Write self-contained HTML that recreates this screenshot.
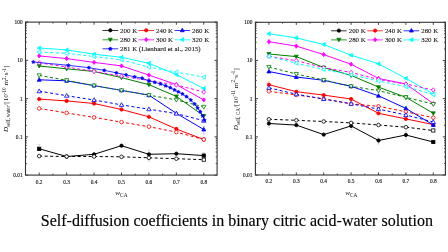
<!DOCTYPE html>
<html><head><meta charset="utf-8"><title>Self-diffusion coefficients</title>
<style>
html,body{margin:0;padding:0;background:#fff;width:448px;height:252px;overflow:hidden}
svg{display:block}
text{font-family:"Liberation Serif","DejaVu Serif",serif;fill:#1a1a1a}
.tk{font-size:5.4px;fill:#111;stroke:#111;stroke-width:0.12px}
.lg{font-size:6.9px;fill:#111;stroke:#111;stroke-width:0.1px}
.ax{font-size:7.15px;fill:#111}
.cap{font-size:16px;fill:#000;stroke:#000;stroke-width:0.15px}
</style></head><body>
<svg width="448" height="252" viewBox="0 0 448 252">
<rect width="448" height="252" fill="#fff"/>
<rect x="25.5" y="22.1" width="191.6" height="153" fill="none" stroke="#333333" stroke-width="1.1"/>
<line x1="39.2" y1="175.1" x2="39.2" y2="172.5" stroke="#333333" stroke-width="0.9"/>
<line x1="39.2" y1="22.1" x2="39.2" y2="24.7" stroke="#333333" stroke-width="0.9"/>
<line x1="66.63" y1="175.1" x2="66.63" y2="172.5" stroke="#333333" stroke-width="0.9"/>
<line x1="66.63" y1="22.1" x2="66.63" y2="24.7" stroke="#333333" stroke-width="0.9"/>
<line x1="94.06" y1="175.1" x2="94.06" y2="172.5" stroke="#333333" stroke-width="0.9"/>
<line x1="94.06" y1="22.1" x2="94.06" y2="24.7" stroke="#333333" stroke-width="0.9"/>
<line x1="121.49" y1="175.1" x2="121.49" y2="172.5" stroke="#333333" stroke-width="0.9"/>
<line x1="121.49" y1="22.1" x2="121.49" y2="24.7" stroke="#333333" stroke-width="0.9"/>
<line x1="148.92" y1="175.1" x2="148.92" y2="172.5" stroke="#333333" stroke-width="0.9"/>
<line x1="148.92" y1="22.1" x2="148.92" y2="24.7" stroke="#333333" stroke-width="0.9"/>
<line x1="176.35" y1="175.1" x2="176.35" y2="172.5" stroke="#333333" stroke-width="0.9"/>
<line x1="176.35" y1="22.1" x2="176.35" y2="24.7" stroke="#333333" stroke-width="0.9"/>
<line x1="203.78" y1="175.1" x2="203.78" y2="172.5" stroke="#333333" stroke-width="0.9"/>
<line x1="203.78" y1="22.1" x2="203.78" y2="24.7" stroke="#333333" stroke-width="0.9"/>
<line x1="52.92" y1="175.1" x2="52.92" y2="173.7" stroke="#333333" stroke-width="0.9"/>
<line x1="52.92" y1="22.1" x2="52.92" y2="23.5" stroke="#333333" stroke-width="0.9"/>
<line x1="80.34" y1="175.1" x2="80.34" y2="173.7" stroke="#333333" stroke-width="0.9"/>
<line x1="80.34" y1="22.1" x2="80.34" y2="23.5" stroke="#333333" stroke-width="0.9"/>
<line x1="107.78" y1="175.1" x2="107.78" y2="173.7" stroke="#333333" stroke-width="0.9"/>
<line x1="107.78" y1="22.1" x2="107.78" y2="23.5" stroke="#333333" stroke-width="0.9"/>
<line x1="135.2" y1="175.1" x2="135.2" y2="173.7" stroke="#333333" stroke-width="0.9"/>
<line x1="135.2" y1="22.1" x2="135.2" y2="23.5" stroke="#333333" stroke-width="0.9"/>
<line x1="162.63" y1="175.1" x2="162.63" y2="173.7" stroke="#333333" stroke-width="0.9"/>
<line x1="162.63" y1="22.1" x2="162.63" y2="23.5" stroke="#333333" stroke-width="0.9"/>
<line x1="190.06" y1="175.1" x2="190.06" y2="173.7" stroke="#333333" stroke-width="0.9"/>
<line x1="190.06" y1="22.1" x2="190.06" y2="23.5" stroke="#333333" stroke-width="0.9"/>
<line x1="25.5" y1="22.1" x2="28.1" y2="22.1" stroke="#333333" stroke-width="0.9"/>
<line x1="217.1" y1="22.1" x2="214.5" y2="22.1" stroke="#333333" stroke-width="0.9"/>
<line x1="25.5" y1="48.84" x2="26.9" y2="48.84" stroke="#333333" stroke-width="0.8"/>
<line x1="217.1" y1="48.84" x2="215.7" y2="48.84" stroke="#333333" stroke-width="0.8"/>
<line x1="25.5" y1="42.1" x2="26.9" y2="42.1" stroke="#333333" stroke-width="0.8"/>
<line x1="217.1" y1="42.1" x2="215.7" y2="42.1" stroke="#333333" stroke-width="0.8"/>
<line x1="25.5" y1="37.32" x2="26.9" y2="37.32" stroke="#333333" stroke-width="0.8"/>
<line x1="217.1" y1="37.32" x2="215.7" y2="37.32" stroke="#333333" stroke-width="0.8"/>
<line x1="25.5" y1="33.61" x2="26.9" y2="33.61" stroke="#333333" stroke-width="0.8"/>
<line x1="217.1" y1="33.61" x2="215.7" y2="33.61" stroke="#333333" stroke-width="0.8"/>
<line x1="25.5" y1="30.59" x2="26.9" y2="30.59" stroke="#333333" stroke-width="0.8"/>
<line x1="217.1" y1="30.59" x2="215.7" y2="30.59" stroke="#333333" stroke-width="0.8"/>
<line x1="25.5" y1="28.02" x2="26.9" y2="28.02" stroke="#333333" stroke-width="0.8"/>
<line x1="217.1" y1="28.02" x2="215.7" y2="28.02" stroke="#333333" stroke-width="0.8"/>
<line x1="25.5" y1="25.81" x2="26.9" y2="25.81" stroke="#333333" stroke-width="0.8"/>
<line x1="217.1" y1="25.81" x2="215.7" y2="25.81" stroke="#333333" stroke-width="0.8"/>
<line x1="25.5" y1="23.85" x2="26.9" y2="23.85" stroke="#333333" stroke-width="0.8"/>
<line x1="217.1" y1="23.85" x2="215.7" y2="23.85" stroke="#333333" stroke-width="0.8"/>
<line x1="25.5" y1="60.35" x2="28.1" y2="60.35" stroke="#333333" stroke-width="0.9"/>
<line x1="217.1" y1="60.35" x2="214.5" y2="60.35" stroke="#333333" stroke-width="0.9"/>
<line x1="25.5" y1="87.09" x2="26.9" y2="87.09" stroke="#333333" stroke-width="0.8"/>
<line x1="217.1" y1="87.09" x2="215.7" y2="87.09" stroke="#333333" stroke-width="0.8"/>
<line x1="25.5" y1="80.35" x2="26.9" y2="80.35" stroke="#333333" stroke-width="0.8"/>
<line x1="217.1" y1="80.35" x2="215.7" y2="80.35" stroke="#333333" stroke-width="0.8"/>
<line x1="25.5" y1="75.57" x2="26.9" y2="75.57" stroke="#333333" stroke-width="0.8"/>
<line x1="217.1" y1="75.57" x2="215.7" y2="75.57" stroke="#333333" stroke-width="0.8"/>
<line x1="25.5" y1="71.86" x2="26.9" y2="71.86" stroke="#333333" stroke-width="0.8"/>
<line x1="217.1" y1="71.86" x2="215.7" y2="71.86" stroke="#333333" stroke-width="0.8"/>
<line x1="25.5" y1="68.84" x2="26.9" y2="68.84" stroke="#333333" stroke-width="0.8"/>
<line x1="217.1" y1="68.84" x2="215.7" y2="68.84" stroke="#333333" stroke-width="0.8"/>
<line x1="25.5" y1="66.27" x2="26.9" y2="66.27" stroke="#333333" stroke-width="0.8"/>
<line x1="217.1" y1="66.27" x2="215.7" y2="66.27" stroke="#333333" stroke-width="0.8"/>
<line x1="25.5" y1="64.06" x2="26.9" y2="64.06" stroke="#333333" stroke-width="0.8"/>
<line x1="217.1" y1="64.06" x2="215.7" y2="64.06" stroke="#333333" stroke-width="0.8"/>
<line x1="25.5" y1="62.1" x2="26.9" y2="62.1" stroke="#333333" stroke-width="0.8"/>
<line x1="217.1" y1="62.1" x2="215.7" y2="62.1" stroke="#333333" stroke-width="0.8"/>
<line x1="25.5" y1="98.6" x2="28.1" y2="98.6" stroke="#333333" stroke-width="0.9"/>
<line x1="217.1" y1="98.6" x2="214.5" y2="98.6" stroke="#333333" stroke-width="0.9"/>
<line x1="25.5" y1="125.34" x2="26.9" y2="125.34" stroke="#333333" stroke-width="0.8"/>
<line x1="217.1" y1="125.34" x2="215.7" y2="125.34" stroke="#333333" stroke-width="0.8"/>
<line x1="25.5" y1="118.6" x2="26.9" y2="118.6" stroke="#333333" stroke-width="0.8"/>
<line x1="217.1" y1="118.6" x2="215.7" y2="118.6" stroke="#333333" stroke-width="0.8"/>
<line x1="25.5" y1="113.82" x2="26.9" y2="113.82" stroke="#333333" stroke-width="0.8"/>
<line x1="217.1" y1="113.82" x2="215.7" y2="113.82" stroke="#333333" stroke-width="0.8"/>
<line x1="25.5" y1="110.11" x2="26.9" y2="110.11" stroke="#333333" stroke-width="0.8"/>
<line x1="217.1" y1="110.11" x2="215.7" y2="110.11" stroke="#333333" stroke-width="0.8"/>
<line x1="25.5" y1="107.09" x2="26.9" y2="107.09" stroke="#333333" stroke-width="0.8"/>
<line x1="217.1" y1="107.09" x2="215.7" y2="107.09" stroke="#333333" stroke-width="0.8"/>
<line x1="25.5" y1="104.52" x2="26.9" y2="104.52" stroke="#333333" stroke-width="0.8"/>
<line x1="217.1" y1="104.52" x2="215.7" y2="104.52" stroke="#333333" stroke-width="0.8"/>
<line x1="25.5" y1="102.31" x2="26.9" y2="102.31" stroke="#333333" stroke-width="0.8"/>
<line x1="217.1" y1="102.31" x2="215.7" y2="102.31" stroke="#333333" stroke-width="0.8"/>
<line x1="25.5" y1="100.35" x2="26.9" y2="100.35" stroke="#333333" stroke-width="0.8"/>
<line x1="217.1" y1="100.35" x2="215.7" y2="100.35" stroke="#333333" stroke-width="0.8"/>
<line x1="25.5" y1="136.85" x2="28.1" y2="136.85" stroke="#333333" stroke-width="0.9"/>
<line x1="217.1" y1="136.85" x2="214.5" y2="136.85" stroke="#333333" stroke-width="0.9"/>
<line x1="25.5" y1="163.59" x2="26.9" y2="163.59" stroke="#333333" stroke-width="0.8"/>
<line x1="217.1" y1="163.59" x2="215.7" y2="163.59" stroke="#333333" stroke-width="0.8"/>
<line x1="25.5" y1="156.85" x2="26.9" y2="156.85" stroke="#333333" stroke-width="0.8"/>
<line x1="217.1" y1="156.85" x2="215.7" y2="156.85" stroke="#333333" stroke-width="0.8"/>
<line x1="25.5" y1="152.07" x2="26.9" y2="152.07" stroke="#333333" stroke-width="0.8"/>
<line x1="217.1" y1="152.07" x2="215.7" y2="152.07" stroke="#333333" stroke-width="0.8"/>
<line x1="25.5" y1="148.36" x2="26.9" y2="148.36" stroke="#333333" stroke-width="0.8"/>
<line x1="217.1" y1="148.36" x2="215.7" y2="148.36" stroke="#333333" stroke-width="0.8"/>
<line x1="25.5" y1="145.34" x2="26.9" y2="145.34" stroke="#333333" stroke-width="0.8"/>
<line x1="217.1" y1="145.34" x2="215.7" y2="145.34" stroke="#333333" stroke-width="0.8"/>
<line x1="25.5" y1="142.77" x2="26.9" y2="142.77" stroke="#333333" stroke-width="0.8"/>
<line x1="217.1" y1="142.77" x2="215.7" y2="142.77" stroke="#333333" stroke-width="0.8"/>
<line x1="25.5" y1="140.56" x2="26.9" y2="140.56" stroke="#333333" stroke-width="0.8"/>
<line x1="217.1" y1="140.56" x2="215.7" y2="140.56" stroke="#333333" stroke-width="0.8"/>
<line x1="25.5" y1="138.6" x2="26.9" y2="138.6" stroke="#333333" stroke-width="0.8"/>
<line x1="217.1" y1="138.6" x2="215.7" y2="138.6" stroke="#333333" stroke-width="0.8"/>
<line x1="25.5" y1="175.1" x2="28.1" y2="175.1" stroke="#333333" stroke-width="0.9"/>
<line x1="217.1" y1="175.1" x2="214.5" y2="175.1" stroke="#333333" stroke-width="0.9"/>
<g stroke="#888888" stroke-width="0.6" opacity="0.55"><line x1="39.2" y1="144.3" x2="39.2" y2="150.5"/><line x1="38.2" y1="144.3" x2="40.2" y2="144.3"/><line x1="38.2" y1="150.5" x2="40.2" y2="150.5"/></g>
<g stroke="#888888" stroke-width="0.6" opacity="0.55"><line x1="148.92" y1="150" x2="148.92" y2="161"/><line x1="147.92" y1="150" x2="149.92" y2="150"/><line x1="147.92" y1="161" x2="149.92" y2="161"/></g>
<g stroke="#888888" stroke-width="0.6" opacity="0.55"><line x1="203.78" y1="152.3" x2="203.78" y2="158.5"/><line x1="202.78" y1="152.3" x2="204.78" y2="152.3"/><line x1="202.78" y1="158.5" x2="204.78" y2="158.5"/></g>
<g stroke="#0000ff" stroke-width="0.6" opacity="0.35"><line x1="203.78" y1="126.4" x2="203.78" y2="134"/><line x1="202.78" y1="126.4" x2="204.78" y2="126.4"/><line x1="202.78" y1="134" x2="204.78" y2="134"/></g>
<g stroke="#ff0000" stroke-width="0.6" opacity="0.35"><line x1="176.35" y1="127.5" x2="176.35" y2="131"/><line x1="175.35" y1="127.5" x2="177.35" y2="127.5"/><line x1="175.35" y1="131" x2="177.35" y2="131"/></g>
<polyline points="39.2,148.8 66.63,156.5 94.06,154.3 121.49,145.7 148.92,154.3 176.35,153.7 203.78,155.6" fill="none" stroke="#000000" stroke-width="1"/>
<rect x="37.59" y="147.19" width="3.23" height="3.23" fill="#000000" stroke="#000000" stroke-width="0.8"/>
<circle cx="66.63" cy="156.5" r="1.66" fill="#000000" stroke="#000000" stroke-width="0.8"/>
<circle cx="94.06" cy="154.3" r="1.66" fill="#000000" stroke="#000000" stroke-width="0.8"/>
<circle cx="121.49" cy="145.7" r="1.66" fill="#000000" stroke="#000000" stroke-width="0.8"/>
<circle cx="148.92" cy="154.3" r="1.66" fill="#000000" stroke="#000000" stroke-width="0.8"/>
<circle cx="176.35" cy="153.7" r="1.66" fill="#000000" stroke="#000000" stroke-width="0.8"/>
<rect x="202.16" y="153.98" width="3.23" height="3.23" fill="#000000" stroke="#000000" stroke-width="0.8"/>
<polyline points="39.2,99.1 66.63,100.9 94.06,103.5 121.49,109.5 148.92,116.8 176.35,129 203.78,139.5" fill="none" stroke="#ff0000" stroke-width="1"/>
<circle cx="39.2" cy="99.1" r="1.66" fill="#ff0000" stroke="#ff0000" stroke-width="0.8"/>
<circle cx="66.63" cy="100.9" r="1.66" fill="#ff0000" stroke="#ff0000" stroke-width="0.8"/>
<circle cx="94.06" cy="103.5" r="1.66" fill="#ff0000" stroke="#ff0000" stroke-width="0.8"/>
<circle cx="121.49" cy="109.5" r="1.66" fill="#ff0000" stroke="#ff0000" stroke-width="0.8"/>
<circle cx="148.92" cy="116.8" r="1.66" fill="#ff0000" stroke="#ff0000" stroke-width="0.8"/>
<circle cx="176.35" cy="129" r="1.66" fill="#ff0000" stroke="#ff0000" stroke-width="0.8"/>
<circle cx="203.78" cy="139.5" r="1.66" fill="#ff0000" stroke="#ff0000" stroke-width="0.8"/>
<polyline points="39.2,79.8 66.63,80.8 94.06,85.6 121.49,90.4 148.92,95.2 176.35,113.3 203.78,129.5" fill="none" stroke="#0000ff" stroke-width="1"/>
<polygon points="39.2,77.73 41.18,81.24 37.22,81.24" fill="#0000ff" stroke="#0000ff" stroke-width="0.8"/>
<polygon points="66.63,78.73 68.61,82.24 64.65,82.24" fill="#0000ff" stroke="#0000ff" stroke-width="0.8"/>
<polygon points="94.06,83.53 96.04,87.04 92.08,87.04" fill="#0000ff" stroke="#0000ff" stroke-width="0.8"/>
<polygon points="121.49,88.33 123.47,91.84 119.51,91.84" fill="#0000ff" stroke="#0000ff" stroke-width="0.8"/>
<polygon points="148.92,93.13 150.9,96.64 146.94,96.64" fill="#0000ff" stroke="#0000ff" stroke-width="0.8"/>
<polygon points="176.35,111.23 178.33,114.74 174.37,114.74" fill="#0000ff" stroke="#0000ff" stroke-width="0.8"/>
<polygon points="203.78,127.43 205.76,130.94 201.8,130.94" fill="#0000ff" stroke="#0000ff" stroke-width="0.8"/>
<polyline points="39.2,66 66.63,68.8 94.06,71.5 121.49,77.6 148.92,84.7 176.35,96.4 203.78,115.9" fill="none" stroke="#008000" stroke-width="1"/>
<polygon points="39.2,68.07 41.18,64.56 37.22,64.56" fill="#008000" stroke="#008000" stroke-width="0.8"/>
<polygon points="66.63,70.87 68.61,67.36 64.65,67.36" fill="#008000" stroke="#008000" stroke-width="0.8"/>
<polygon points="94.06,73.57 96.04,70.06 92.08,70.06" fill="#008000" stroke="#008000" stroke-width="0.8"/>
<polygon points="121.49,79.67 123.47,76.16 119.51,76.16" fill="#008000" stroke="#008000" stroke-width="0.8"/>
<polygon points="148.92,86.77 150.9,83.26 146.94,83.26" fill="#008000" stroke="#008000" stroke-width="0.8"/>
<polygon points="176.35,98.47 178.33,94.96 174.37,94.96" fill="#008000" stroke="#008000" stroke-width="0.8"/>
<polygon points="203.78,117.97 205.76,114.46 201.8,114.46" fill="#008000" stroke="#008000" stroke-width="0.8"/>
<polyline points="39.2,55.9 66.63,58.6 94.06,62.4 121.49,65.9 148.92,75.1 176.35,84.6 203.78,99.9" fill="none" stroke="#ff00ff" stroke-width="1"/>
<polygon points="39.2,53.83 40.91,55.9 39.2,57.97 37.49,55.9" fill="#ff00ff" stroke="#ff00ff" stroke-width="0.8"/>
<polygon points="66.63,56.53 68.34,58.6 66.63,60.67 64.92,58.6" fill="#ff00ff" stroke="#ff00ff" stroke-width="0.8"/>
<polygon points="94.06,60.33 95.77,62.4 94.06,64.47 92.35,62.4" fill="#ff00ff" stroke="#ff00ff" stroke-width="0.8"/>
<polygon points="121.49,63.83 123.2,65.9 121.49,67.97 119.78,65.9" fill="#ff00ff" stroke="#ff00ff" stroke-width="0.8"/>
<polygon points="148.92,73.03 150.63,75.1 148.92,77.17 147.21,75.1" fill="#ff00ff" stroke="#ff00ff" stroke-width="0.8"/>
<polygon points="176.35,82.53 178.06,84.6 176.35,86.67 174.64,84.6" fill="#ff00ff" stroke="#ff00ff" stroke-width="0.8"/>
<polygon points="203.78,97.83 205.49,99.9 203.78,101.97 202.07,99.9" fill="#ff00ff" stroke="#ff00ff" stroke-width="0.8"/>
<polyline points="39.2,48 66.63,49.9 94.06,54.2 121.49,57.3 148.92,63.3 176.35,74.6 203.78,88.5" fill="none" stroke="#00ffff" stroke-width="1"/>
<polygon points="37.13,48 40.64,46.02 40.64,49.98" fill="#00ffff" stroke="#00ffff" stroke-width="0.8"/>
<polygon points="64.56,49.9 68.07,47.92 68.07,51.88" fill="#00ffff" stroke="#00ffff" stroke-width="0.8"/>
<polygon points="91.99,54.2 95.5,52.22 95.5,56.18" fill="#00ffff" stroke="#00ffff" stroke-width="0.8"/>
<polygon points="119.42,57.3 122.93,55.32 122.93,59.28" fill="#00ffff" stroke="#00ffff" stroke-width="0.8"/>
<polygon points="146.85,63.3 150.36,61.32 150.36,65.28" fill="#00ffff" stroke="#00ffff" stroke-width="0.8"/>
<polygon points="174.28,74.6 177.79,72.62 177.79,76.58" fill="#00ffff" stroke="#00ffff" stroke-width="0.8"/>
<polygon points="201.71,88.5 205.22,86.52 205.22,90.48" fill="#00ffff" stroke="#00ffff" stroke-width="0.8"/>
<polyline points="39.2,156.1 66.63,156.5 94.06,156.5 121.49,156.8 148.92,157.8 176.35,158.7 203.78,159.7" fill="none" stroke="#000000" stroke-width="1" stroke-dasharray="3 2.5"/>
<circle cx="39.2" cy="156.1" r="1.79" fill="#ffffff" stroke="#000000" stroke-width="0.8"/>
<circle cx="66.63" cy="156.5" r="1.79" fill="#ffffff" stroke="#000000" stroke-width="0.8"/>
<circle cx="94.06" cy="156.5" r="1.79" fill="#ffffff" stroke="#000000" stroke-width="0.8"/>
<circle cx="121.49" cy="156.8" r="1.79" fill="#ffffff" stroke="#000000" stroke-width="0.8"/>
<circle cx="148.92" cy="157.8" r="1.79" fill="#ffffff" stroke="#000000" stroke-width="0.8"/>
<circle cx="176.35" cy="158.7" r="1.79" fill="#ffffff" stroke="#000000" stroke-width="0.8"/>
<rect x="202.16" y="158.08" width="3.23" height="3.23" fill="#ffffff" stroke="#000000" stroke-width="0.8"/>
<polyline points="39.2,108.5 66.63,112.9 94.06,117.4 121.49,122.1 148.92,126.7 176.35,132.1 203.78,139.5" fill="none" stroke="#ff0000" stroke-width="1" stroke-dasharray="3 2.5"/>
<circle cx="39.2" cy="108.5" r="1.79" fill="#ffffff" stroke="#ff0000" stroke-width="0.8"/>
<circle cx="66.63" cy="112.9" r="1.79" fill="#ffffff" stroke="#ff0000" stroke-width="0.8"/>
<circle cx="94.06" cy="117.4" r="1.79" fill="#ffffff" stroke="#ff0000" stroke-width="0.8"/>
<circle cx="121.49" cy="122.1" r="1.79" fill="#ffffff" stroke="#ff0000" stroke-width="0.8"/>
<circle cx="148.92" cy="126.7" r="1.79" fill="#ffffff" stroke="#ff0000" stroke-width="0.8"/>
<circle cx="176.35" cy="132.1" r="1.79" fill="#ffffff" stroke="#ff0000" stroke-width="0.8"/>
<circle cx="203.78" cy="139.5" r="1.79" fill="#ffffff" stroke="#ff0000" stroke-width="0.8"/>
<polyline points="39.2,91.2 66.63,95.7 94.06,100 121.49,104.9 148.92,109.2 176.35,113.6 203.78,120.7" fill="none" stroke="#0000ff" stroke-width="1" stroke-dasharray="3 2.5"/>
<polygon points="39.2,88.96 41.35,92.76 37.05,92.76" fill="#ffffff" stroke="#0000ff" stroke-width="0.8"/>
<polygon points="66.63,93.46 68.77,97.26 64.48,97.26" fill="#ffffff" stroke="#0000ff" stroke-width="0.8"/>
<polygon points="94.06,97.76 96.2,101.56 91.92,101.56" fill="#ffffff" stroke="#0000ff" stroke-width="0.8"/>
<polygon points="121.49,102.66 123.63,106.46 119.34,106.46" fill="#ffffff" stroke="#0000ff" stroke-width="0.8"/>
<polygon points="148.92,106.96 151.07,110.76 146.78,110.76" fill="#ffffff" stroke="#0000ff" stroke-width="0.8"/>
<polygon points="176.35,111.36 178.5,115.16 174.21,115.16" fill="#ffffff" stroke="#0000ff" stroke-width="0.8"/>
<polygon points="203.78,118.46 205.92,122.26 201.63,122.26" fill="#ffffff" stroke="#0000ff" stroke-width="0.8"/>
<polyline points="39.2,75.4 66.63,80.3 94.06,85.6 121.49,90.4 148.92,95.2 176.35,99.9 203.78,106.9" fill="none" stroke="#008000" stroke-width="1" stroke-dasharray="3 2.5"/>
<polygon points="39.2,77.64 41.35,73.84 37.05,73.84" fill="#ffffff" stroke="#008000" stroke-width="0.8"/>
<polygon points="66.63,82.54 68.77,78.74 64.48,78.74" fill="#ffffff" stroke="#008000" stroke-width="0.8"/>
<polygon points="94.06,87.84 96.2,84.04 91.92,84.04" fill="#ffffff" stroke="#008000" stroke-width="0.8"/>
<polygon points="121.49,92.64 123.63,88.84 119.34,88.84" fill="#ffffff" stroke="#008000" stroke-width="0.8"/>
<polygon points="148.92,97.44 151.07,93.64 146.78,93.64" fill="#ffffff" stroke="#008000" stroke-width="0.8"/>
<polygon points="176.35,102.14 178.5,98.34 174.21,98.34" fill="#ffffff" stroke="#008000" stroke-width="0.8"/>
<polygon points="203.78,109.14 205.92,105.34 201.63,105.34" fill="#ffffff" stroke="#008000" stroke-width="0.8"/>
<polyline points="39.2,62.8 66.63,67 94.06,71.4 121.49,76.1 148.92,80.5 176.35,85 203.78,92" fill="none" stroke="#ff00ff" stroke-width="1" stroke-dasharray="3 2.5"/>
<polygon points="39.2,60.56 41.05,62.8 39.2,65.04 37.35,62.8" fill="#ffffff" stroke="#ff00ff" stroke-width="0.8"/>
<polygon points="66.63,64.76 68.48,67 66.63,69.24 64.78,67" fill="#ffffff" stroke="#ff00ff" stroke-width="0.8"/>
<polygon points="94.06,69.16 95.91,71.4 94.06,73.64 92.21,71.4" fill="#ffffff" stroke="#ff00ff" stroke-width="0.8"/>
<polygon points="121.49,73.86 123.34,76.1 121.49,78.34 119.64,76.1" fill="#ffffff" stroke="#ff00ff" stroke-width="0.8"/>
<polygon points="148.92,78.26 150.77,80.5 148.92,82.74 147.07,80.5" fill="#ffffff" stroke="#ff00ff" stroke-width="0.8"/>
<polygon points="176.35,82.76 178.2,85 176.35,87.24 174.5,85" fill="#ffffff" stroke="#ff00ff" stroke-width="0.8"/>
<polygon points="203.78,89.76 205.63,92 203.78,94.24 201.93,92" fill="#ffffff" stroke="#ff00ff" stroke-width="0.8"/>
<polyline points="39.2,52.1 66.63,53.3 94.06,56.5 121.49,59.9 148.92,67.1 176.35,72.1 203.78,77.1" fill="none" stroke="#00ffff" stroke-width="1" stroke-dasharray="3 2.5"/>
<polygon points="36.96,52.1 40.76,49.95 40.76,54.25" fill="#ffffff" stroke="#00ffff" stroke-width="0.8"/>
<polygon points="64.39,53.3 68.19,51.15 68.19,55.45" fill="#ffffff" stroke="#00ffff" stroke-width="0.8"/>
<polygon points="91.82,56.5 95.62,54.35 95.62,58.65" fill="#ffffff" stroke="#00ffff" stroke-width="0.8"/>
<polygon points="119.25,59.9 123.05,57.75 123.05,62.05" fill="#ffffff" stroke="#00ffff" stroke-width="0.8"/>
<polygon points="146.68,67.1 150.48,64.95 150.48,69.24" fill="#ffffff" stroke="#00ffff" stroke-width="0.8"/>
<polygon points="174.11,72.1 177.91,69.95 177.91,74.24" fill="#ffffff" stroke="#00ffff" stroke-width="0.8"/>
<polygon points="201.54,77.1 205.34,74.95 205.34,79.24" fill="#ffffff" stroke="#00ffff" stroke-width="0.8"/>
<polyline points="33.3,62 68.4,65.3 88.9,67.7 104.2,70.3 116.3,72.8 126,74.8 134.6,76.8 142.1,78.2 148.9,80.8 154.8,82.3 160.5,83.9 165.6,85.8 170.3,87.7 174.5,89.9 178.3,91.8 182.4,93.9 186.5,96.6 190.8,100 194.6,104 197.6,108 200.3,111.7 202.6,115.9 204.5,120.2" fill="none" stroke="#0000ff" stroke-width="0.8"/>
<polygon points="33.3,60.16 33.94,61.12 35.05,61.43 34.33,62.34 34.38,63.49 33.3,63.09 32.22,63.49 32.27,62.34 31.55,61.43 32.66,61.12" fill="#0000ff" stroke="#0000ff" stroke-width="0.5"/>
<polygon points="68.4,63.46 69.04,64.42 70.15,64.73 69.43,65.64 69.48,66.79 68.4,66.38 67.32,66.79 67.37,65.64 66.65,64.73 67.76,64.42" fill="#0000ff" stroke="#0000ff" stroke-width="0.5"/>
<polygon points="88.9,65.86 89.54,66.82 90.65,67.13 89.93,68.04 89.98,69.19 88.9,68.78 87.82,69.19 87.87,68.04 87.15,67.13 88.26,66.82" fill="#0000ff" stroke="#0000ff" stroke-width="0.5"/>
<polygon points="104.2,68.46 104.84,69.42 105.95,69.73 105.23,70.64 105.28,71.79 104.2,71.38 103.12,71.79 103.17,70.64 102.45,69.73 103.56,69.42" fill="#0000ff" stroke="#0000ff" stroke-width="0.5"/>
<polygon points="116.3,70.96 116.94,71.92 118.05,72.23 117.33,73.14 117.38,74.29 116.3,73.88 115.22,74.29 115.27,73.14 114.55,72.23 115.66,71.92" fill="#0000ff" stroke="#0000ff" stroke-width="0.5"/>
<polygon points="126,72.96 126.64,73.92 127.75,74.23 127.03,75.14 127.08,76.29 126,75.88 124.92,76.29 124.97,75.14 124.25,74.23 125.36,73.92" fill="#0000ff" stroke="#0000ff" stroke-width="0.5"/>
<polygon points="134.6,74.96 135.24,75.92 136.35,76.23 135.63,77.14 135.68,78.29 134.6,77.88 133.52,78.29 133.57,77.14 132.85,76.23 133.96,75.92" fill="#0000ff" stroke="#0000ff" stroke-width="0.5"/>
<polygon points="142.1,76.36 142.74,77.32 143.85,77.63 143.13,78.54 143.18,79.69 142.1,79.28 141.02,79.69 141.07,78.54 140.35,77.63 141.46,77.32" fill="#0000ff" stroke="#0000ff" stroke-width="0.5"/>
<polygon points="148.9,78.96 149.54,79.92 150.65,80.23 149.93,81.14 149.98,82.29 148.9,81.88 147.82,82.29 147.87,81.14 147.15,80.23 148.26,79.92" fill="#0000ff" stroke="#0000ff" stroke-width="0.5"/>
<polygon points="154.8,80.46 155.44,81.42 156.55,81.73 155.83,82.64 155.88,83.79 154.8,83.38 153.72,83.79 153.77,82.64 153.05,81.73 154.16,81.42" fill="#0000ff" stroke="#0000ff" stroke-width="0.5"/>
<polygon points="160.5,82.06 161.14,83.02 162.25,83.33 161.53,84.24 161.58,85.39 160.5,84.98 159.42,85.39 159.47,84.24 158.75,83.33 159.86,83.02" fill="#0000ff" stroke="#0000ff" stroke-width="0.5"/>
<polygon points="165.6,83.96 166.24,84.92 167.35,85.23 166.63,86.14 166.68,87.29 165.6,86.88 164.52,87.29 164.57,86.14 163.85,85.23 164.96,84.92" fill="#0000ff" stroke="#0000ff" stroke-width="0.5"/>
<polygon points="170.3,85.86 170.94,86.82 172.05,87.13 171.33,88.04 171.38,89.19 170.3,88.78 169.22,89.19 169.27,88.04 168.55,87.13 169.66,86.82" fill="#0000ff" stroke="#0000ff" stroke-width="0.5"/>
<polygon points="174.5,88.06 175.14,89.02 176.25,89.33 175.53,90.24 175.58,91.39 174.5,90.98 173.42,91.39 173.47,90.24 172.75,89.33 173.86,89.02" fill="#0000ff" stroke="#0000ff" stroke-width="0.5"/>
<polygon points="178.3,89.96 178.94,90.92 180.05,91.23 179.33,92.14 179.38,93.29 178.3,92.88 177.22,93.29 177.27,92.14 176.55,91.23 177.66,90.92" fill="#0000ff" stroke="#0000ff" stroke-width="0.5"/>
<polygon points="182.4,92.06 183.04,93.02 184.15,93.33 183.43,94.24 183.48,95.39 182.4,94.98 181.32,95.39 181.37,94.24 180.65,93.33 181.76,93.02" fill="#0000ff" stroke="#0000ff" stroke-width="0.5"/>
<polygon points="186.5,94.76 187.14,95.72 188.25,96.03 187.53,96.94 187.58,98.09 186.5,97.68 185.42,98.09 185.47,96.94 184.75,96.03 185.86,95.72" fill="#0000ff" stroke="#0000ff" stroke-width="0.5"/>
<polygon points="190.8,98.16 191.44,99.12 192.55,99.43 191.83,100.34 191.88,101.49 190.8,101.08 189.72,101.49 189.77,100.34 189.05,99.43 190.16,99.12" fill="#0000ff" stroke="#0000ff" stroke-width="0.5"/>
<polygon points="194.6,102.16 195.24,103.12 196.35,103.43 195.63,104.34 195.68,105.49 194.6,105.08 193.52,105.49 193.57,104.34 192.85,103.43 193.96,103.12" fill="#0000ff" stroke="#0000ff" stroke-width="0.5"/>
<polygon points="197.6,106.16 198.24,107.12 199.35,107.43 198.63,108.34 198.68,109.49 197.6,109.08 196.52,109.49 196.57,108.34 195.85,107.43 196.96,107.12" fill="#0000ff" stroke="#0000ff" stroke-width="0.5"/>
<polygon points="200.3,109.86 200.94,110.82 202.05,111.13 201.33,112.04 201.38,113.19 200.3,112.78 199.22,113.19 199.27,112.04 198.55,111.13 199.66,110.82" fill="#0000ff" stroke="#0000ff" stroke-width="0.5"/>
<polygon points="202.6,114.06 203.24,115.02 204.35,115.33 203.63,116.24 203.68,117.39 202.6,116.98 201.52,117.39 201.57,116.24 200.85,115.33 201.96,115.02" fill="#0000ff" stroke="#0000ff" stroke-width="0.5"/>
<polygon points="204.5,118.36 205.14,119.32 206.25,119.63 205.53,120.54 205.58,121.69 204.5,121.28 203.42,121.69 203.47,120.54 202.75,119.63 203.86,119.32" fill="#0000ff" stroke="#0000ff" stroke-width="0.5"/>
<line x1="102.5" y1="30.5" x2="118.1" y2="30.5" stroke="#000000" stroke-width="0.8"/>
<circle cx="110.3" cy="30.3" r="1.66" fill="#000000" stroke="#000000" stroke-width="0.8"/>
<text x="120.1" y="32.6" class="lg">200 K</text>
<line x1="138.4" y1="30.5" x2="154" y2="30.5" stroke="#ff0000" stroke-width="0.8"/>
<circle cx="146.2" cy="30.3" r="1.66" fill="#ff0000" stroke="#ff0000" stroke-width="0.8"/>
<text x="156" y="32.6" class="lg">240 K</text>
<line x1="174.5" y1="30.5" x2="190.1" y2="30.5" stroke="#0000ff" stroke-width="0.8"/>
<polygon points="182.3,28.23 184.28,31.74 180.32,31.74" fill="#0000ff" stroke="#0000ff" stroke-width="0.8"/>
<text x="192.1" y="32.6" class="lg">260 K</text>
<line x1="102.5" y1="39.8" x2="118.1" y2="39.8" stroke="#008000" stroke-width="0.8"/>
<polygon points="110.3,41.67 112.28,38.16 108.32,38.16" fill="#008000" stroke="#008000" stroke-width="0.8"/>
<text x="120.1" y="41.9" class="lg">280 K</text>
<line x1="138.4" y1="39.8" x2="154" y2="39.8" stroke="#ff00ff" stroke-width="0.8"/>
<polygon points="146.2,37.53 147.91,39.6 146.2,41.67 144.49,39.6" fill="#ff00ff" stroke="#ff00ff" stroke-width="0.8"/>
<text x="156" y="41.9" class="lg">300 K</text>
<line x1="174.5" y1="39.8" x2="190.1" y2="39.8" stroke="#00ffff" stroke-width="0.8"/>
<polygon points="180.23,39.6 183.74,37.62 183.74,41.58" fill="#00ffff" stroke="#00ffff" stroke-width="0.8"/>
<text x="192.1" y="41.9" class="lg">320 K</text>
<line x1="102.5" y1="48.8" x2="118.1" y2="48.8" stroke="#0000ff" stroke-width="0.8"/>
<polygon points="110.3,46.91 110.96,47.9 112.1,48.22 111.36,49.14 111.41,50.33 110.3,49.92 109.19,50.33 109.24,49.14 108.5,48.22 109.64,47.9" fill="#0000ff" stroke="#0000ff" stroke-width="0.8"/>
<text x="120.1" y="51.1" class="lg">281 K (Lienhard et al., 2015)</text>
<text x="22.6" y="24" class="tk" text-anchor="end">100</text>
<text x="22.6" y="62.25" class="tk" text-anchor="end">10</text>
<text x="22.6" y="100.5" class="tk" text-anchor="end">1</text>
<text x="22.6" y="138.75" class="tk" text-anchor="end">0.1</text>
<text x="22.6" y="177" class="tk" text-anchor="end">0.01</text>
<text x="39.2" y="183.5" class="tk" text-anchor="middle">0.2</text>
<text x="66.63" y="183.5" class="tk" text-anchor="middle">0.3</text>
<text x="94.06" y="183.5" class="tk" text-anchor="middle">0.4</text>
<text x="121.49" y="183.5" class="tk" text-anchor="middle">0.5</text>
<text x="148.92" y="183.5" class="tk" text-anchor="middle">0.6</text>
<text x="176.35" y="183.5" class="tk" text-anchor="middle">0.7</text>
<text x="203.78" y="183.5" class="tk" text-anchor="middle">0.8</text>
<rect x="255.4" y="22.3" width="190" height="152.7" fill="none" stroke="#333333" stroke-width="1.1"/>
<line x1="268.9" y1="175" x2="268.9" y2="172.4" stroke="#333333" stroke-width="0.9"/>
<line x1="268.9" y1="22.3" x2="268.9" y2="24.9" stroke="#333333" stroke-width="0.9"/>
<line x1="296.3" y1="175" x2="296.3" y2="172.4" stroke="#333333" stroke-width="0.9"/>
<line x1="296.3" y1="22.3" x2="296.3" y2="24.9" stroke="#333333" stroke-width="0.9"/>
<line x1="323.7" y1="175" x2="323.7" y2="172.4" stroke="#333333" stroke-width="0.9"/>
<line x1="323.7" y1="22.3" x2="323.7" y2="24.9" stroke="#333333" stroke-width="0.9"/>
<line x1="351.1" y1="175" x2="351.1" y2="172.4" stroke="#333333" stroke-width="0.9"/>
<line x1="351.1" y1="22.3" x2="351.1" y2="24.9" stroke="#333333" stroke-width="0.9"/>
<line x1="378.5" y1="175" x2="378.5" y2="172.4" stroke="#333333" stroke-width="0.9"/>
<line x1="378.5" y1="22.3" x2="378.5" y2="24.9" stroke="#333333" stroke-width="0.9"/>
<line x1="405.9" y1="175" x2="405.9" y2="172.4" stroke="#333333" stroke-width="0.9"/>
<line x1="405.9" y1="22.3" x2="405.9" y2="24.9" stroke="#333333" stroke-width="0.9"/>
<line x1="433.3" y1="175" x2="433.3" y2="172.4" stroke="#333333" stroke-width="0.9"/>
<line x1="433.3" y1="22.3" x2="433.3" y2="24.9" stroke="#333333" stroke-width="0.9"/>
<line x1="282.6" y1="175" x2="282.6" y2="173.6" stroke="#333333" stroke-width="0.9"/>
<line x1="282.6" y1="22.3" x2="282.6" y2="23.7" stroke="#333333" stroke-width="0.9"/>
<line x1="310" y1="175" x2="310" y2="173.6" stroke="#333333" stroke-width="0.9"/>
<line x1="310" y1="22.3" x2="310" y2="23.7" stroke="#333333" stroke-width="0.9"/>
<line x1="337.4" y1="175" x2="337.4" y2="173.6" stroke="#333333" stroke-width="0.9"/>
<line x1="337.4" y1="22.3" x2="337.4" y2="23.7" stroke="#333333" stroke-width="0.9"/>
<line x1="364.8" y1="175" x2="364.8" y2="173.6" stroke="#333333" stroke-width="0.9"/>
<line x1="364.8" y1="22.3" x2="364.8" y2="23.7" stroke="#333333" stroke-width="0.9"/>
<line x1="392.2" y1="175" x2="392.2" y2="173.6" stroke="#333333" stroke-width="0.9"/>
<line x1="392.2" y1="22.3" x2="392.2" y2="23.7" stroke="#333333" stroke-width="0.9"/>
<line x1="419.6" y1="175" x2="419.6" y2="173.6" stroke="#333333" stroke-width="0.9"/>
<line x1="419.6" y1="22.3" x2="419.6" y2="23.7" stroke="#333333" stroke-width="0.9"/>
<line x1="255.4" y1="22.3" x2="258" y2="22.3" stroke="#333333" stroke-width="0.9"/>
<line x1="445.4" y1="22.3" x2="442.8" y2="22.3" stroke="#333333" stroke-width="0.9"/>
<line x1="255.4" y1="48.98" x2="256.8" y2="48.98" stroke="#333333" stroke-width="0.8"/>
<line x1="445.4" y1="48.98" x2="444" y2="48.98" stroke="#333333" stroke-width="0.8"/>
<line x1="255.4" y1="42.26" x2="256.8" y2="42.26" stroke="#333333" stroke-width="0.8"/>
<line x1="445.4" y1="42.26" x2="444" y2="42.26" stroke="#333333" stroke-width="0.8"/>
<line x1="255.4" y1="37.49" x2="256.8" y2="37.49" stroke="#333333" stroke-width="0.8"/>
<line x1="445.4" y1="37.49" x2="444" y2="37.49" stroke="#333333" stroke-width="0.8"/>
<line x1="255.4" y1="33.79" x2="256.8" y2="33.79" stroke="#333333" stroke-width="0.8"/>
<line x1="445.4" y1="33.79" x2="444" y2="33.79" stroke="#333333" stroke-width="0.8"/>
<line x1="255.4" y1="30.77" x2="256.8" y2="30.77" stroke="#333333" stroke-width="0.8"/>
<line x1="445.4" y1="30.77" x2="444" y2="30.77" stroke="#333333" stroke-width="0.8"/>
<line x1="255.4" y1="28.21" x2="256.8" y2="28.21" stroke="#333333" stroke-width="0.8"/>
<line x1="445.4" y1="28.21" x2="444" y2="28.21" stroke="#333333" stroke-width="0.8"/>
<line x1="255.4" y1="26" x2="256.8" y2="26" stroke="#333333" stroke-width="0.8"/>
<line x1="445.4" y1="26" x2="444" y2="26" stroke="#333333" stroke-width="0.8"/>
<line x1="255.4" y1="24.05" x2="256.8" y2="24.05" stroke="#333333" stroke-width="0.8"/>
<line x1="445.4" y1="24.05" x2="444" y2="24.05" stroke="#333333" stroke-width="0.8"/>
<line x1="255.4" y1="60.47" x2="258" y2="60.47" stroke="#333333" stroke-width="0.9"/>
<line x1="445.4" y1="60.47" x2="442.8" y2="60.47" stroke="#333333" stroke-width="0.9"/>
<line x1="255.4" y1="87.16" x2="256.8" y2="87.16" stroke="#333333" stroke-width="0.8"/>
<line x1="445.4" y1="87.16" x2="444" y2="87.16" stroke="#333333" stroke-width="0.8"/>
<line x1="255.4" y1="80.44" x2="256.8" y2="80.44" stroke="#333333" stroke-width="0.8"/>
<line x1="445.4" y1="80.44" x2="444" y2="80.44" stroke="#333333" stroke-width="0.8"/>
<line x1="255.4" y1="75.67" x2="256.8" y2="75.67" stroke="#333333" stroke-width="0.8"/>
<line x1="445.4" y1="75.67" x2="444" y2="75.67" stroke="#333333" stroke-width="0.8"/>
<line x1="255.4" y1="71.97" x2="256.8" y2="71.97" stroke="#333333" stroke-width="0.8"/>
<line x1="445.4" y1="71.97" x2="444" y2="71.97" stroke="#333333" stroke-width="0.8"/>
<line x1="255.4" y1="68.94" x2="256.8" y2="68.94" stroke="#333333" stroke-width="0.8"/>
<line x1="445.4" y1="68.94" x2="444" y2="68.94" stroke="#333333" stroke-width="0.8"/>
<line x1="255.4" y1="66.39" x2="256.8" y2="66.39" stroke="#333333" stroke-width="0.8"/>
<line x1="445.4" y1="66.39" x2="444" y2="66.39" stroke="#333333" stroke-width="0.8"/>
<line x1="255.4" y1="64.17" x2="256.8" y2="64.17" stroke="#333333" stroke-width="0.8"/>
<line x1="445.4" y1="64.17" x2="444" y2="64.17" stroke="#333333" stroke-width="0.8"/>
<line x1="255.4" y1="62.22" x2="256.8" y2="62.22" stroke="#333333" stroke-width="0.8"/>
<line x1="445.4" y1="62.22" x2="444" y2="62.22" stroke="#333333" stroke-width="0.8"/>
<line x1="255.4" y1="98.65" x2="258" y2="98.65" stroke="#333333" stroke-width="0.9"/>
<line x1="445.4" y1="98.65" x2="442.8" y2="98.65" stroke="#333333" stroke-width="0.9"/>
<line x1="255.4" y1="125.33" x2="256.8" y2="125.33" stroke="#333333" stroke-width="0.8"/>
<line x1="445.4" y1="125.33" x2="444" y2="125.33" stroke="#333333" stroke-width="0.8"/>
<line x1="255.4" y1="118.61" x2="256.8" y2="118.61" stroke="#333333" stroke-width="0.8"/>
<line x1="445.4" y1="118.61" x2="444" y2="118.61" stroke="#333333" stroke-width="0.8"/>
<line x1="255.4" y1="113.84" x2="256.8" y2="113.84" stroke="#333333" stroke-width="0.8"/>
<line x1="445.4" y1="113.84" x2="444" y2="113.84" stroke="#333333" stroke-width="0.8"/>
<line x1="255.4" y1="110.14" x2="256.8" y2="110.14" stroke="#333333" stroke-width="0.8"/>
<line x1="445.4" y1="110.14" x2="444" y2="110.14" stroke="#333333" stroke-width="0.8"/>
<line x1="255.4" y1="107.12" x2="256.8" y2="107.12" stroke="#333333" stroke-width="0.8"/>
<line x1="445.4" y1="107.12" x2="444" y2="107.12" stroke="#333333" stroke-width="0.8"/>
<line x1="255.4" y1="104.56" x2="256.8" y2="104.56" stroke="#333333" stroke-width="0.8"/>
<line x1="445.4" y1="104.56" x2="444" y2="104.56" stroke="#333333" stroke-width="0.8"/>
<line x1="255.4" y1="102.35" x2="256.8" y2="102.35" stroke="#333333" stroke-width="0.8"/>
<line x1="445.4" y1="102.35" x2="444" y2="102.35" stroke="#333333" stroke-width="0.8"/>
<line x1="255.4" y1="100.4" x2="256.8" y2="100.4" stroke="#333333" stroke-width="0.8"/>
<line x1="445.4" y1="100.4" x2="444" y2="100.4" stroke="#333333" stroke-width="0.8"/>
<line x1="255.4" y1="136.82" x2="258" y2="136.82" stroke="#333333" stroke-width="0.9"/>
<line x1="445.4" y1="136.82" x2="442.8" y2="136.82" stroke="#333333" stroke-width="0.9"/>
<line x1="255.4" y1="163.51" x2="256.8" y2="163.51" stroke="#333333" stroke-width="0.8"/>
<line x1="445.4" y1="163.51" x2="444" y2="163.51" stroke="#333333" stroke-width="0.8"/>
<line x1="255.4" y1="156.79" x2="256.8" y2="156.79" stroke="#333333" stroke-width="0.8"/>
<line x1="445.4" y1="156.79" x2="444" y2="156.79" stroke="#333333" stroke-width="0.8"/>
<line x1="255.4" y1="152.02" x2="256.8" y2="152.02" stroke="#333333" stroke-width="0.8"/>
<line x1="445.4" y1="152.02" x2="444" y2="152.02" stroke="#333333" stroke-width="0.8"/>
<line x1="255.4" y1="148.32" x2="256.8" y2="148.32" stroke="#333333" stroke-width="0.8"/>
<line x1="445.4" y1="148.32" x2="444" y2="148.32" stroke="#333333" stroke-width="0.8"/>
<line x1="255.4" y1="145.29" x2="256.8" y2="145.29" stroke="#333333" stroke-width="0.8"/>
<line x1="445.4" y1="145.29" x2="444" y2="145.29" stroke="#333333" stroke-width="0.8"/>
<line x1="255.4" y1="142.74" x2="256.8" y2="142.74" stroke="#333333" stroke-width="0.8"/>
<line x1="445.4" y1="142.74" x2="444" y2="142.74" stroke="#333333" stroke-width="0.8"/>
<line x1="255.4" y1="140.52" x2="256.8" y2="140.52" stroke="#333333" stroke-width="0.8"/>
<line x1="445.4" y1="140.52" x2="444" y2="140.52" stroke="#333333" stroke-width="0.8"/>
<line x1="255.4" y1="138.57" x2="256.8" y2="138.57" stroke="#333333" stroke-width="0.8"/>
<line x1="445.4" y1="138.57" x2="444" y2="138.57" stroke="#333333" stroke-width="0.8"/>
<line x1="255.4" y1="175" x2="258" y2="175" stroke="#333333" stroke-width="0.9"/>
<line x1="445.4" y1="175" x2="442.8" y2="175" stroke="#333333" stroke-width="0.9"/>
<g stroke="#888888" stroke-width="0.6" opacity="0.55"><line x1="268.9" y1="121" x2="268.9" y2="127.7"/><line x1="267.9" y1="121" x2="269.9" y2="121"/><line x1="267.9" y1="127.7" x2="269.9" y2="127.7"/></g>
<g stroke="#888888" stroke-width="0.6" opacity="0.55"><line x1="351.1" y1="123" x2="351.1" y2="130"/><line x1="350.1" y1="123" x2="352.1" y2="123"/><line x1="350.1" y1="130" x2="352.1" y2="130"/></g>
<g stroke="#888888" stroke-width="0.6" opacity="0.55"><line x1="378.5" y1="137.9" x2="378.5" y2="144"/><line x1="377.5" y1="137.9" x2="379.5" y2="137.9"/><line x1="377.5" y1="144" x2="379.5" y2="144"/></g>
<g stroke="#888888" stroke-width="0.6" opacity="0.55"><line x1="405.9" y1="131.6" x2="405.9" y2="139.4"/><line x1="404.9" y1="131.6" x2="406.9" y2="131.6"/><line x1="404.9" y1="139.4" x2="406.9" y2="139.4"/></g>
<g stroke="#ff00ff" stroke-width="0.6" opacity="0.35"><line x1="268.9" y1="39.5" x2="268.9" y2="45"/><line x1="267.9" y1="39.5" x2="269.9" y2="39.5"/><line x1="267.9" y1="45" x2="269.9" y2="45"/></g>
<g stroke="#ff00ff" stroke-width="0.6" opacity="0.35"><line x1="296.3" y1="42.1" x2="296.3" y2="48"/><line x1="295.3" y1="42.1" x2="297.3" y2="42.1"/><line x1="295.3" y1="48" x2="297.3" y2="48"/></g>
<g stroke="#00ffff" stroke-width="0.6" opacity="0.35"><line x1="296.3" y1="35" x2="296.3" y2="40.5"/><line x1="295.3" y1="35" x2="297.3" y2="35"/><line x1="295.3" y1="40.5" x2="297.3" y2="40.5"/></g>
<g stroke="#ff0000" stroke-width="0.6" opacity="0.35"><line x1="268.9" y1="81.5" x2="268.9" y2="86.5"/><line x1="267.9" y1="81.5" x2="269.9" y2="81.5"/><line x1="267.9" y1="86.5" x2="269.9" y2="86.5"/></g>
<polyline points="268.9,123.5 296.3,125.1 323.7,134.6 351.1,125.9 378.5,140.5 405.9,135 433.3,142" fill="none" stroke="#000000" stroke-width="1"/>
<circle cx="268.9" cy="123.5" r="1.66" fill="#000000" stroke="#000000" stroke-width="0.8"/>
<circle cx="296.3" cy="125.1" r="1.66" fill="#000000" stroke="#000000" stroke-width="0.8"/>
<circle cx="323.7" cy="134.6" r="1.66" fill="#000000" stroke="#000000" stroke-width="0.8"/>
<circle cx="351.1" cy="125.9" r="1.66" fill="#000000" stroke="#000000" stroke-width="0.8"/>
<circle cx="378.5" cy="140.5" r="1.66" fill="#000000" stroke="#000000" stroke-width="0.8"/>
<circle cx="405.9" cy="135" r="1.66" fill="#000000" stroke="#000000" stroke-width="0.8"/>
<rect x="431.68" y="140.38" width="3.23" height="3.23" fill="#000000" stroke="#000000" stroke-width="0.8"/>
<polyline points="268.9,84.7 296.3,91.7 323.7,95.1 351.1,99 378.5,113.3 405.9,118.9 433.3,124.6" fill="none" stroke="#ff0000" stroke-width="1"/>
<circle cx="268.9" cy="84.7" r="1.66" fill="#ff0000" stroke="#ff0000" stroke-width="0.8"/>
<circle cx="296.3" cy="91.7" r="1.66" fill="#ff0000" stroke="#ff0000" stroke-width="0.8"/>
<circle cx="323.7" cy="95.1" r="1.66" fill="#ff0000" stroke="#ff0000" stroke-width="0.8"/>
<circle cx="351.1" cy="99" r="1.66" fill="#ff0000" stroke="#ff0000" stroke-width="0.8"/>
<circle cx="378.5" cy="113.3" r="1.66" fill="#ff0000" stroke="#ff0000" stroke-width="0.8"/>
<circle cx="405.9" cy="118.9" r="1.66" fill="#ff0000" stroke="#ff0000" stroke-width="0.8"/>
<circle cx="433.3" cy="124.6" r="1.66" fill="#ff0000" stroke="#ff0000" stroke-width="0.8"/>
<polyline points="268.9,71.5 296.3,77 323.7,80.3 351.1,86.3 378.5,95.8 405.9,108.4 433.3,125" fill="none" stroke="#0000ff" stroke-width="1"/>
<polygon points="268.9,69.43 270.88,72.94 266.92,72.94" fill="#0000ff" stroke="#0000ff" stroke-width="0.8"/>
<polygon points="296.3,74.93 298.28,78.44 294.32,78.44" fill="#0000ff" stroke="#0000ff" stroke-width="0.8"/>
<polygon points="323.7,78.23 325.68,81.74 321.72,81.74" fill="#0000ff" stroke="#0000ff" stroke-width="0.8"/>
<polygon points="351.1,84.23 353.08,87.74 349.12,87.74" fill="#0000ff" stroke="#0000ff" stroke-width="0.8"/>
<polygon points="378.5,93.73 380.48,97.24 376.52,97.24" fill="#0000ff" stroke="#0000ff" stroke-width="0.8"/>
<polygon points="405.9,106.33 407.88,109.84 403.92,109.84" fill="#0000ff" stroke="#0000ff" stroke-width="0.8"/>
<polygon points="433.3,122.93 435.28,126.44 431.32,126.44" fill="#0000ff" stroke="#0000ff" stroke-width="0.8"/>
<polyline points="268.9,54 296.3,56.6 323.7,67.5 351.1,75.4 378.5,87.1 405.9,97.3 433.3,113.3" fill="none" stroke="#008000" stroke-width="1"/>
<polygon points="268.9,56.07 270.88,52.56 266.92,52.56" fill="#008000" stroke="#008000" stroke-width="0.8"/>
<polygon points="296.3,58.67 298.28,55.16 294.32,55.16" fill="#008000" stroke="#008000" stroke-width="0.8"/>
<polygon points="323.7,69.57 325.68,66.06 321.72,66.06" fill="#008000" stroke="#008000" stroke-width="0.8"/>
<polygon points="351.1,77.47 353.08,73.96 349.12,73.96" fill="#008000" stroke="#008000" stroke-width="0.8"/>
<polygon points="378.5,89.17 380.48,85.66 376.52,85.66" fill="#008000" stroke="#008000" stroke-width="0.8"/>
<polygon points="405.9,99.37 407.88,95.86 403.92,95.86" fill="#008000" stroke="#008000" stroke-width="0.8"/>
<polygon points="433.3,115.37 435.28,111.86 431.32,111.86" fill="#008000" stroke="#008000" stroke-width="0.8"/>
<polyline points="268.9,41.7 296.3,46.1 323.7,54.6 351.1,64.2 378.5,78.4 405.9,84 433.3,103.6" fill="none" stroke="#ff00ff" stroke-width="1"/>
<polygon points="268.9,39.63 270.61,41.7 268.9,43.77 267.19,41.7" fill="#ff00ff" stroke="#ff00ff" stroke-width="0.8"/>
<polygon points="296.3,44.03 298.01,46.1 296.3,48.17 294.59,46.1" fill="#ff00ff" stroke="#ff00ff" stroke-width="0.8"/>
<polygon points="323.7,52.53 325.41,54.6 323.7,56.67 321.99,54.6" fill="#ff00ff" stroke="#ff00ff" stroke-width="0.8"/>
<polygon points="351.1,62.13 352.81,64.2 351.1,66.27 349.39,64.2" fill="#ff00ff" stroke="#ff00ff" stroke-width="0.8"/>
<polygon points="378.5,76.33 380.21,78.4 378.5,80.47 376.79,78.4" fill="#ff00ff" stroke="#ff00ff" stroke-width="0.8"/>
<polygon points="405.9,81.93 407.61,84 405.9,86.07 404.19,84" fill="#ff00ff" stroke="#ff00ff" stroke-width="0.8"/>
<polygon points="433.3,101.53 435.01,103.6 433.3,105.67 431.59,103.6" fill="#ff00ff" stroke="#ff00ff" stroke-width="0.8"/>
<polyline points="268.9,33.7 296.3,37.9 323.7,44.5 351.1,55.2 378.5,63.8 405.9,78.3 433.3,94" fill="none" stroke="#00ffff" stroke-width="1"/>
<polygon points="266.83,33.7 270.34,31.72 270.34,35.68" fill="#00ffff" stroke="#00ffff" stroke-width="0.8"/>
<polygon points="294.23,37.9 297.74,35.92 297.74,39.88" fill="#00ffff" stroke="#00ffff" stroke-width="0.8"/>
<polygon points="321.63,44.5 325.14,42.52 325.14,46.48" fill="#00ffff" stroke="#00ffff" stroke-width="0.8"/>
<polygon points="349.03,55.2 352.54,53.22 352.54,57.18" fill="#00ffff" stroke="#00ffff" stroke-width="0.8"/>
<polygon points="376.43,63.8 379.94,61.82 379.94,65.78" fill="#00ffff" stroke="#00ffff" stroke-width="0.8"/>
<polygon points="403.83,78.3 407.34,76.32 407.34,80.28" fill="#00ffff" stroke="#00ffff" stroke-width="0.8"/>
<polygon points="431.23,94 434.74,92.02 434.74,95.98" fill="#00ffff" stroke="#00ffff" stroke-width="0.8"/>
<polyline points="268.9,119.3 296.3,120.3 323.7,121.5 351.1,122.9 378.5,125 405.9,127.2 433.3,130.5" fill="none" stroke="#000000" stroke-width="1" stroke-dasharray="3 2.5"/>
<circle cx="268.9" cy="119.3" r="1.79" fill="#ffffff" stroke="#000000" stroke-width="0.8"/>
<circle cx="296.3" cy="120.3" r="1.79" fill="#ffffff" stroke="#000000" stroke-width="0.8"/>
<circle cx="323.7" cy="121.5" r="1.79" fill="#ffffff" stroke="#000000" stroke-width="0.8"/>
<circle cx="351.1" cy="122.9" r="1.79" fill="#ffffff" stroke="#000000" stroke-width="0.8"/>
<circle cx="378.5" cy="125" r="1.79" fill="#ffffff" stroke="#000000" stroke-width="0.8"/>
<circle cx="405.9" cy="127.2" r="1.79" fill="#ffffff" stroke="#000000" stroke-width="0.8"/>
<rect x="431.68" y="128.88" width="3.23" height="3.23" fill="#ffffff" stroke="#000000" stroke-width="0.8"/>
<polyline points="268.9,91.3 296.3,94.9 323.7,98.9 351.1,103.8 378.5,106.3 405.9,111.8 433.3,117.7" fill="none" stroke="#ff0000" stroke-width="1" stroke-dasharray="3 2.5"/>
<circle cx="268.9" cy="91.3" r="1.79" fill="#ffffff" stroke="#ff0000" stroke-width="0.8"/>
<circle cx="296.3" cy="94.9" r="1.79" fill="#ffffff" stroke="#ff0000" stroke-width="0.8"/>
<circle cx="323.7" cy="98.9" r="1.79" fill="#ffffff" stroke="#ff0000" stroke-width="0.8"/>
<circle cx="351.1" cy="103.8" r="1.79" fill="#ffffff" stroke="#ff0000" stroke-width="0.8"/>
<circle cx="378.5" cy="106.3" r="1.79" fill="#ffffff" stroke="#ff0000" stroke-width="0.8"/>
<circle cx="405.9" cy="111.8" r="1.79" fill="#ffffff" stroke="#ff0000" stroke-width="0.8"/>
<circle cx="433.3" cy="117.7" r="1.79" fill="#ffffff" stroke="#ff0000" stroke-width="0.8"/>
<polyline points="268.9,87.8 296.3,94.2 323.7,99 351.1,103.8 378.5,109.1 405.9,115 433.3,122" fill="none" stroke="#0000ff" stroke-width="1" stroke-dasharray="3 2.5"/>
<polygon points="268.9,85.56 271.04,89.36 266.75,89.36" fill="#ffffff" stroke="#0000ff" stroke-width="0.8"/>
<polygon points="296.3,91.96 298.44,95.76 294.15,95.76" fill="#ffffff" stroke="#0000ff" stroke-width="0.8"/>
<polygon points="323.7,96.76 325.84,100.56 321.56,100.56" fill="#ffffff" stroke="#0000ff" stroke-width="0.8"/>
<polygon points="351.1,101.56 353.24,105.36 348.95,105.36" fill="#ffffff" stroke="#0000ff" stroke-width="0.8"/>
<polygon points="378.5,106.86 380.64,110.66 376.36,110.66" fill="#ffffff" stroke="#0000ff" stroke-width="0.8"/>
<polygon points="405.9,112.76 408.04,116.56 403.75,116.56" fill="#ffffff" stroke="#0000ff" stroke-width="0.8"/>
<polygon points="433.3,119.76 435.44,123.56 431.15,123.56" fill="#ffffff" stroke="#0000ff" stroke-width="0.8"/>
<polyline points="268.9,67 296.3,74 323.7,80 351.1,86.3 378.5,90.7 405.9,97.3 433.3,104.1" fill="none" stroke="#008000" stroke-width="1" stroke-dasharray="3 2.5"/>
<polygon points="268.9,69.24 271.04,65.44 266.75,65.44" fill="#ffffff" stroke="#008000" stroke-width="0.8"/>
<polygon points="296.3,76.24 298.44,72.44 294.15,72.44" fill="#ffffff" stroke="#008000" stroke-width="0.8"/>
<polygon points="323.7,82.24 325.84,78.44 321.56,78.44" fill="#ffffff" stroke="#008000" stroke-width="0.8"/>
<polygon points="351.1,88.54 353.24,84.74 348.95,84.74" fill="#ffffff" stroke="#008000" stroke-width="0.8"/>
<polygon points="378.5,92.94 380.64,89.14 376.36,89.14" fill="#ffffff" stroke="#008000" stroke-width="0.8"/>
<polygon points="405.9,99.54 408.04,95.74 403.75,95.74" fill="#ffffff" stroke="#008000" stroke-width="0.8"/>
<polygon points="433.3,106.34 435.44,102.54 431.15,102.54" fill="#ffffff" stroke="#008000" stroke-width="0.8"/>
<polyline points="268.9,56.3 296.3,60.7 323.7,67.7 351.1,72.4 378.5,79.5 405.9,84 433.3,90" fill="none" stroke="#ff00ff" stroke-width="1" stroke-dasharray="3 2.5"/>
<polygon points="268.9,54.06 270.75,56.3 268.9,58.54 267.05,56.3" fill="#ffffff" stroke="#ff00ff" stroke-width="0.8"/>
<polygon points="296.3,58.46 298.15,60.7 296.3,62.94 294.45,60.7" fill="#ffffff" stroke="#ff00ff" stroke-width="0.8"/>
<polygon points="323.7,65.46 325.55,67.7 323.7,69.94 321.85,67.7" fill="#ffffff" stroke="#ff00ff" stroke-width="0.8"/>
<polygon points="351.1,70.16 352.95,72.4 351.1,74.64 349.25,72.4" fill="#ffffff" stroke="#ff00ff" stroke-width="0.8"/>
<polygon points="378.5,77.26 380.35,79.5 378.5,81.74 376.65,79.5" fill="#ffffff" stroke="#ff00ff" stroke-width="0.8"/>
<polygon points="405.9,81.76 407.75,84 405.9,86.24 404.05,84" fill="#ffffff" stroke="#ff00ff" stroke-width="0.8"/>
<polygon points="433.3,87.76 435.15,90 433.3,92.24 431.45,90" fill="#ffffff" stroke="#ff00ff" stroke-width="0.8"/>
<polyline points="268.9,56.3 296.3,63.2 323.7,69.6 351.1,74.8 378.5,81 405.9,86.6 433.3,94.6" fill="none" stroke="#00ffff" stroke-width="1" stroke-dasharray="3 2.5"/>
<polygon points="266.66,56.3 270.46,54.15 270.46,58.45" fill="#ffffff" stroke="#00ffff" stroke-width="0.8"/>
<polygon points="294.06,63.2 297.86,61.05 297.86,65.34" fill="#ffffff" stroke="#00ffff" stroke-width="0.8"/>
<polygon points="321.46,69.6 325.26,67.45 325.26,71.74" fill="#ffffff" stroke="#00ffff" stroke-width="0.8"/>
<polygon points="348.86,74.8 352.66,72.66 352.66,76.94" fill="#ffffff" stroke="#00ffff" stroke-width="0.8"/>
<polygon points="376.26,81 380.06,78.86 380.06,83.14" fill="#ffffff" stroke="#00ffff" stroke-width="0.8"/>
<polygon points="403.66,86.6 407.46,84.45 407.46,88.74" fill="#ffffff" stroke="#00ffff" stroke-width="0.8"/>
<polygon points="431.06,94.6 434.86,92.45 434.86,96.74" fill="#ffffff" stroke="#00ffff" stroke-width="0.8"/>
<line x1="331.1" y1="30.8" x2="346.7" y2="30.8" stroke="#000000" stroke-width="0.8"/>
<circle cx="338.9" cy="30.6" r="1.66" fill="#000000" stroke="#000000" stroke-width="0.8"/>
<text x="348.7" y="32.9" class="lg">200 K</text>
<line x1="367.3" y1="30.8" x2="382.9" y2="30.8" stroke="#ff0000" stroke-width="0.8"/>
<circle cx="375.1" cy="30.6" r="1.66" fill="#ff0000" stroke="#ff0000" stroke-width="0.8"/>
<text x="384.9" y="32.9" class="lg">240 K</text>
<line x1="403.6" y1="30.8" x2="419.2" y2="30.8" stroke="#0000ff" stroke-width="0.8"/>
<polygon points="411.4,28.53 413.38,32.04 409.42,32.04" fill="#0000ff" stroke="#0000ff" stroke-width="0.8"/>
<text x="421.2" y="32.9" class="lg">260 K</text>
<line x1="331.1" y1="39.9" x2="346.7" y2="39.9" stroke="#008000" stroke-width="0.8"/>
<polygon points="338.9,41.77 340.88,38.26 336.92,38.26" fill="#008000" stroke="#008000" stroke-width="0.8"/>
<text x="348.7" y="42" class="lg">280 K</text>
<line x1="367.3" y1="39.9" x2="382.9" y2="39.9" stroke="#ff00ff" stroke-width="0.8"/>
<polygon points="375.1,37.63 376.81,39.7 375.1,41.77 373.39,39.7" fill="#ff00ff" stroke="#ff00ff" stroke-width="0.8"/>
<text x="384.9" y="42" class="lg">300 K</text>
<line x1="403.6" y1="39.9" x2="419.2" y2="39.9" stroke="#00ffff" stroke-width="0.8"/>
<polygon points="409.33,39.7 412.84,37.72 412.84,41.68" fill="#00ffff" stroke="#00ffff" stroke-width="0.8"/>
<text x="421.2" y="42" class="lg">320 K</text>
<text x="252.4" y="24.2" class="tk" text-anchor="end">100</text>
<text x="252.4" y="62.37" class="tk" text-anchor="end">10</text>
<text x="252.4" y="100.55" class="tk" text-anchor="end">1</text>
<text x="252.4" y="138.72" class="tk" text-anchor="end">0.1</text>
<text x="252.4" y="176.9" class="tk" text-anchor="end">0.01</text>
<text x="268.9" y="183.4" class="tk" text-anchor="middle">0.2</text>
<text x="296.3" y="183.4" class="tk" text-anchor="middle">0.3</text>
<text x="323.7" y="183.4" class="tk" text-anchor="middle">0.4</text>
<text x="351.1" y="183.4" class="tk" text-anchor="middle">0.5</text>
<text x="378.5" y="183.4" class="tk" text-anchor="middle">0.6</text>
<text x="405.9" y="183.4" class="tk" text-anchor="middle">0.7</text>
<text x="433.3" y="183.4" class="tk" text-anchor="middle">0.8</text>
<text class="ax" x="121.4" y="195.0" font-size="6.2" text-anchor="middle"><tspan font-style="italic">w</tspan><tspan font-size="5.3" dy="2.4">CA</tspan></text>
<text class="ax" x="351.2" y="195.0" font-size="6.2" text-anchor="middle"><tspan font-style="italic">w</tspan><tspan font-size="5.3" dy="2.4">CA</tspan></text>
<text class="ax" transform="translate(8.4,98.9) rotate(-90)" text-anchor="middle"><tspan font-style="italic">D</tspan><tspan font-size="5.1" dy="1.8">self, water</tspan><tspan dy="-1.8">/[10</tspan><tspan font-size="5.1" dy="-2.7">-10</tspan><tspan dy="2.7"> m</tspan><tspan font-size="5.1" dy="-2.7">2</tspan><tspan dy="2.7">&#183;s</tspan><tspan font-size="5.1" dy="-2.7">-1</tspan><tspan dy="2.7">]</tspan></text>
<text class="ax" transform="translate(237.7,99.2) rotate(-90)" text-anchor="middle"><tspan font-style="italic">D</tspan><tspan font-size="5.1" dy="1.8">self, CA</tspan><tspan dy="-1.8">/[10</tspan><tspan font-size="5.1" dy="-2.7">-11</tspan><tspan dy="2.7"> m</tspan><tspan font-size="5.1" dy="-2.7">2</tspan><tspan dy="2.7">&#183;s</tspan><tspan font-size="5.1" dy="-2.7">-1</tspan><tspan dy="2.7">]</tspan></text>
<text class="cap" x="40.8" y="225.6">Self-diffusion coefficients in binary citric acid-water solution</text>
</svg>
</body></html>
